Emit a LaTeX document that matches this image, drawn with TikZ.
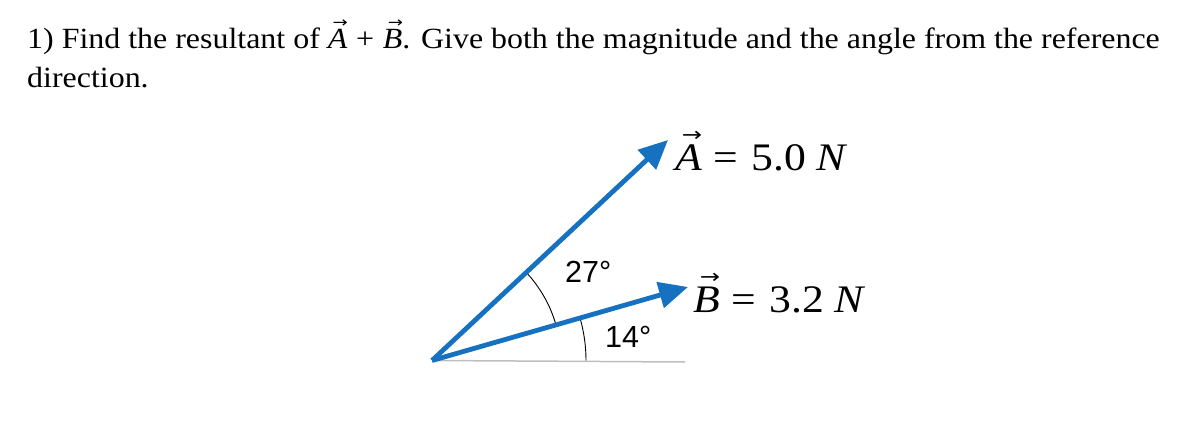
\documentclass[tikz,border=0pt]{standalone}
\usepackage{fontspec}
\setmainfont[FakeStretch=1.09]{Liberation Serif}
\newfontfamily\labelf[FakeStretch=1.12]{Liberation Serif}
\newfontfamily\arialf{Liberation Sans}
\newfontfamily\dejavuf{DejaVu Sans}
\usetikzlibrary{arrows.meta}
\definecolor{vecblue}{RGB}{22,114,192}
\definecolor{refgray}{RGB}{190,190,190}
\newcommand{\vit}[1]{\leavevmode\hbox{\ooalign{\itshape #1\cr\hidewidth\raisebox{0.72em}{\kern0.18em\scalebox{0.62}[0.5]{\dejavuf →}}\hidewidth\cr}}}
\tikzset{
  vecarrow/.style={vecblue, line width=4.8pt, -{Triangle[length=29pt,width=26pt]}},
  refline/.style={refgray, line width=1.5pt},
  anglearc/.style={black, line width=0.9pt},
  titletext/.style={anchor=base west, inner sep=0pt, font=\fontsize{29.3}{39}\selectfont},
  veclabel/.style={anchor=base west, inner sep=0pt, font=\labelf\fontsize{39}{40}\selectfont},
  anglelabel/.style={anchor=base west, inner sep=0pt, font=\arialf\fontsize{30.5}{32}\selectfont},
}
\begin{document}
\begin{tikzpicture}[x=1pt,y=1pt]
\useasboundingbox (0,0) rectangle (1192,424);
\node[titletext] (t1) at (27,375) {1) Find the resultant of \vit{A}\hspace{0.3em}+\hspace{0.3em}\vit{B}. Give both the magnitude and the angle from the reference};
\node[titletext] (t2) at (27,336) {direction.};
\coordinate (O) at (432,63.5);
\coordinate (R) at (685,62);
\coordinate (Atip) at (668,284);
\coordinate (Btip) at (688,137);
\draw[refline] (O) -- (R);
\draw[anglearc] ([shift={(0:154)}]O) arc[start angle=0, end angle=16, radius=154];
\draw[anglearc] ([shift={(16:129)}]O) arc[start angle=16, end angle=43, radius=129];
\draw[vecarrow] (O) -- (Atip);
\draw[vecarrow] (O) -- (Btip);
\node[veclabel] (la) at (675,254) {\vit{A}\hspace{0.3em}=\hspace{0.35em}5.0\hspace{0.25em}\textit{N}};
\node[veclabel] (lb) at (693,112) {\vit{B}\hspace{0.3em}=\hspace{0.35em}3.2\hspace{0.25em}\textit{N}};
\node[anglelabel] (a27) at (565,142) {27°};
\node[anglelabel] (a14) at (605,77) {14°};
\end{tikzpicture}
\end{document}
